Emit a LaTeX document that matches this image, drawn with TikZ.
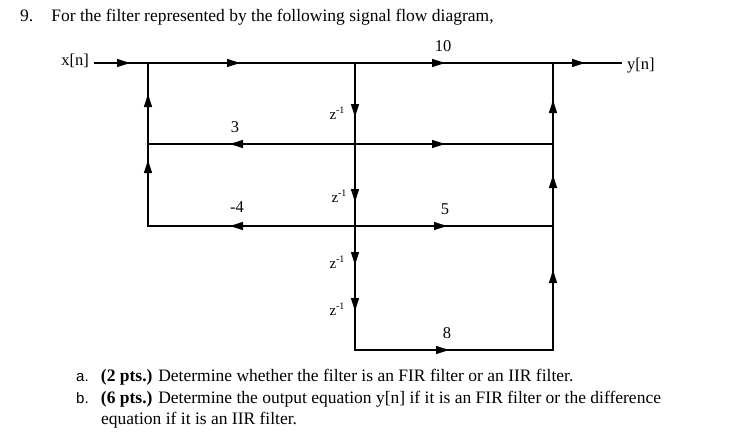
\documentclass[tikz,border=0pt]{standalone}
\usepackage{fontspec}
\setmainfont{Liberation Serif}
\newfontfamily\arialf{Liberation Sans}
\usetikzlibrary{arrows.meta}
\tikzset{
  wire/.style={line width=1.3pt},
  tip/.style={line width=1.3pt,-{Triangle[length=13pt,width=8pt]}},
  lab/.style={font=\fontsize{16.5}{19}\selectfont,inner sep=1pt},
  zl/.style={font=\fontsize{15}{17}\selectfont,inner sep=1pt},
  txt/.style={anchor=west,font=\fontsize{17.5}{20}\selectfont,inner sep=0}
}
\newcommand{\zinv}{z\raisebox{0.9ex}{\fontsize{10}{11}\selectfont -1}}
\begin{document}
\begin{tikzpicture}[x=1pt,y=-1pt]
\useasboundingbox (0,0) rectangle (746,442);
\coordinate (xin) at (94,63);
\coordinate (yout) at (622,63);
\coordinate (tl) at (148,63); \coordinate (tm) at (355,63); \coordinate (tr) at (553,63);
\coordinate (al) at (148,144); \coordinate (am) at (355,144); \coordinate (ar) at (553,144);
\coordinate (bl) at (148,226); \coordinate (bm) at (355,226); \coordinate (br) at (553,226);
\coordinate (cm) at (355,350); \coordinate (cr) at (553,350);
\node[lab,anchor=east] (x) at (90,61) {x[n]};
\node[lab,anchor=west] (y) at (626,66) {y[n]};
\draw[wire] (xin) -- (yout);
\draw[wire] (tl) -- (bl) -- (br);
\draw[wire] (al) -- (ar);
\draw[wire] (tm) -- (cm) -- (cr) -- (tr);
\draw[tip] (110,63) -- (130,63);
\draw[tip] (220,63) -- (240,63);
\draw[tip] (425,63) -- (445,63);
\draw[tip] (565,63) -- (585,63);
\draw[tip] (148,112) -- (148,94);
\draw[tip] (148,178) -- (148,160);
\draw[tip] (355,95) -- (355,117);
\draw[tip] (355,180) -- (355,202);
\draw[tip] (355,245) -- (355,265);
\draw[tip] (355,290) -- (355,311);
\draw[tip] (553,120) -- (553,100);
\draw[tip] (553,195) -- (553,175);
\draw[tip] (553,290) -- (553,270);
\draw[tip] (252,144) -- (230,144);
\draw[tip] (425,144) -- (445,144);
\draw[tip] (252,226) -- (230,226);
\draw[tip] (427,226) -- (447,226);
\draw[tip] (427,350) -- (449,350);
\node[lab] (g10) at (443,46) {10};
\node[lab] (g3) at (235,127) {3};
\node[lab] (g4) at (237,207) {-4};
\node[lab] (g5) at (445,209) {5};
\node[lab] (g8) at (447,333) {8};
\node[zl] (z1) at (337,113) {\zinv};
\node[zl] (z2) at (339,196) {\zinv};
\node[zl] (z3) at (337,262) {\zinv};
\node[zl] (z4) at (337,309) {\zinv};
\node[txt] (t0) at (20,17) {9.\hspace{0.7em} For the filter represented by the following signal flow diagram,};
\node[txt] (ta) at (76,377) {{\arialf\fontsize{15}{18}\selectfont a.}\hspace{0.7em}\textbf{(2 pts.)} Determine whether the filter is an FIR filter or an IIR filter.};
\node[txt] (tb) at (76,399) {{\arialf\fontsize{15}{18}\selectfont b.}\hspace{0.7em}\textbf{(6 pts.)} Determine the output equation y[n] if it is an FIR filter or the difference};
\node[txt] (tc) at (101,420) {equation if it is an IIR filter.};
\end{tikzpicture}
\end{document}
